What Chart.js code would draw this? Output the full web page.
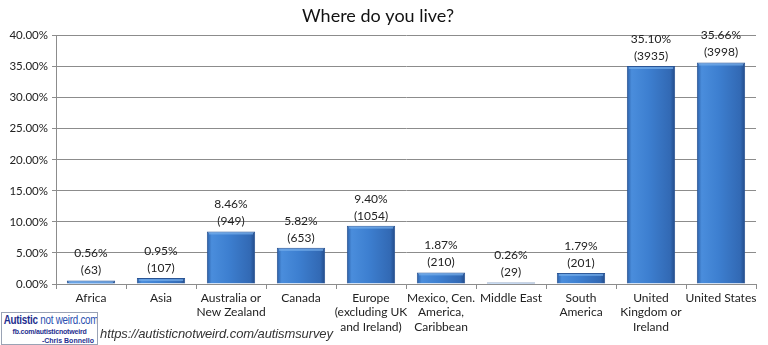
<!DOCTYPE html>
<html>
<head>
<meta charset="utf-8">
<script src="https://cdn.jsdelivr.net/npm/chart.js@4/dist/chart.umd.min.js"></script>
<style>
  body { margin: 0; background: #fff; }
  #wrap { position: relative; width: 768px; height: 345px; }
  #logo {
    position: absolute; left: 1px; top: 312px; width: 95px; height: 31px;
    border: 1px solid #9aa3b5; background: #fff; overflow: hidden;
    font-family: "Liberation Sans", Arial, sans-serif; line-height: 1; white-space: nowrap;
  }
  #logo .a { font-size: 12px; color: #1f2f8f; font-weight: bold; padding-left: 2px; margin-top: 1px;
             transform: scaleX(0.82); transform-origin: left center; letter-spacing: -0.3px; }
  #logo .a span { font-weight: normal; color: #2a4fb0; }
  #logo .b { font-size: 7px; color: #1f2f8f; font-weight: bold; text-align: center; margin-top: 2px; letter-spacing: -0.2px; }
  #logo .c { font-size: 7px; color: #1f2f8f; font-weight: bold; text-align: right; padding-right: 3px; margin-top: 2px; }
  #url {
    position: absolute; left: 100px; top: 326px;
    font: italic 13px "Liberation Sans", Arial, sans-serif; color: #333; letter-spacing: -0.1px;
  }
</style>
</head>
<body>
<div id="wrap">
  <canvas id="myChart" width="768" height="345"></canvas>
  <div id="logo">
    <div class="a">Autistic<span> not weird.com</span></div>
    <div class="b">fb.com/autisticnotweird</div>
    <div class="c">-Chris Bonnello</div>
  </div>
  <div id="url">https://autisticnotweird.com/autismsurvey</div>
</div>
<script>
const regions = [
    "Africa", "Asia", ["Australia or", "New Zealand"], "Canada",
    ["Europe", "(excluding UK", "and Ireland)"], ["Mexico, Cen.", "America,", "Caribbean"],
    "Middle East", ["South", "America"], ["United", "Kingdom or", "Ireland"], "United States"
]
const percents = [0.56, 0.95, 8.46, 5.82, 9.40, 1.87, 0.26, 1.79, 35.10, 35.66]
const counts = [63, 107, 949, 653, 1054, 210, 29, 201, 3935, 3998]

const barShare = 0.69

const barFill = (ctx) => {
    const xs = ctx.chart.scales.x
    if (!xs || xs.width === undefined) return "#3a7ccc"
    const cx = xs.getPixelForValue(ctx.dataIndex)
    const half = xs.width / regions.length * barShare / 2
    if (!isFinite(cx)) return "#3a7ccc"
    const g = ctx.chart.ctx.createLinearGradient(cx - half, 0, cx + half, 0)
    g.addColorStop(0, "#2a5ea6")
    g.addColorStop(0.1, "#4a8ddc")
    g.addColorStop(0.45, "#3d7fd0")
    g.addColorStop(0.9, "#3269b4")
    g.addColorStop(1, "#224a88")
    return g
}

const barLabels = {
    id: "barLabels",
    afterDatasetsDraw(chart) {
        const c = chart.ctx
        const meta = chart.getDatasetMeta(0)
        c.save()
        // soft bevel along top of each bar
        meta.data.forEach(bar => {
            const h = bar.base - bar.y
            const strip = Math.min(2, h - 1)
            if (strip <= 0) return
            c.fillStyle = "rgba(120,175,235,0.7)"
            c.fillRect(bar.x - bar.width / 2 + 2, bar.y + 1, bar.width - 4, strip)
        })
        c.fillStyle = "#222"
        c.font = "12px Lato, sans-serif"
        c.textAlign = "center"
        c.textBaseline = "middle"
        meta.data.forEach((bar, i) => {
            c.fillText(percents[i].toFixed(2) + "%", bar.x, bar.y - 27)
            c.fillText("(" + counts[i] + ")", bar.x, bar.y - 10)
        })
        c.restore()
    }
}

const chart = new Chart("myChart", {
    type: "bar",
    data: {
        labels: regions,
        datasets: [{
            data: percents,
            backgroundColor: barFill,
            borderColor: "#2a5494",
            borderWidth: 1,
            barPercentage: barShare,
            categoryPercentage: 1.0
        }]
    },
    options: {
        responsive: false,
        animation: false,
        layout: { padding: { left: 0, right: 12, top: 0, bottom: 0 } },
        plugins: {
            legend: { display: false },
            tooltip: { enabled: false },
            title: {
                display: true,
                text: "Where do you live?",
                color: "#111",
                font: { family: "Lato", size: 18, weight: "normal" },
                padding: { top: 5, bottom: 9 }
            }
        },
        scales: {
            x: {
                grid: { display: true, drawOnChartArea: false, offset: true, tickLength: 5, color: "#8c8c8c" },
                border: { color: "#8c8c8c" },
                ticks: {
                    color: "#222",
                    font: { family: "Lato", size: 12 },
                    maxRotation: 0,
                    autoSkip: false,
                    padding: 2
                },
                afterFit: s => { s.height = 61 }
            },
            y: {
                min: 0,
                max: 40,
                ticks: {
                    stepSize: 5,
                    color: "#222",
                    font: { family: "Lato", size: 11.5 },
                    padding: 4,
                    callback: v => v.toFixed(2) + "%"
                },
                grid: { color: "#8c8c8c", tickLength: 4 },
                border: { color: "#8c8c8c" },
                afterFit: s => { s.width = 56 }
            }
        }
    },
    plugins: [barLabels]
})
chart.update()
</script>
</body>
</html>
